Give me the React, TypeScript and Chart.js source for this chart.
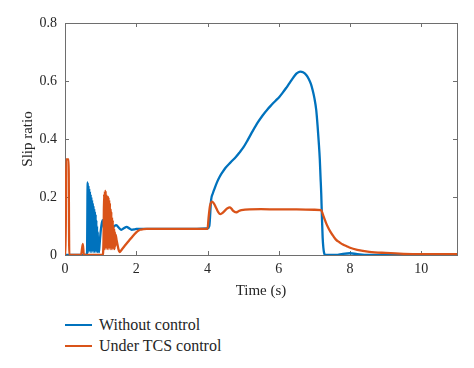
import React, { useEffect, useRef } from "react";
import { Chart, registerables } from "chart.js";

Chart.register(...registerables);

// ---- data ----
const seriesNames = ["Without control", "Under TCS control"];
const seriesColors = ["#0072BD", "#D95319"];

const blueTime = [
  0, 0.6, 0.62, 0.63, 0.64, 0.65, 0.66, 0.67, 0.68, 0.69, 0.7, 0.71, 0.72, 0.73, 0.74, 0.75, 0.76, 0.77, 0.78, 0.79,
  0.8, 0.81, 0.82, 0.83, 0.84, 0.85, 0.86, 0.87, 0.88, 0.89, 0.9, 0.91, 0.92, 0.93, 0.94, 0.95, 0.96,
  1.0, 1.05, 1.1, 1.2, 1.3, 1.37, 1.44, 1.51, 1.58, 1.65, 1.73, 1.8, 1.87, 1.94, 2.0, 2.5, 3.0, 3.5, 4.0, 4.05,
  4.1, 4.15, 4.2, 4.27, 4.34, 4.42, 4.5, 4.65, 4.8, 4.9, 5.0, 5.13, 5.27, 5.41, 5.55, 5.68, 5.8, 5.91, 6.02, 6.11,
  6.2, 6.3, 6.39, 6.45, 6.5, 6.55, 6.6, 6.68, 6.77, 6.84, 6.9, 6.95, 7.0, 7.05, 7.09, 7.12, 7.15, 7.17, 7.19, 7.21,
  7.23, 7.25, 7.27, 7.3, 7.6, 7.8, 8.0, 8.2, 8.5, 11,
];
const blueSlip = [
  0, 0, 0.01, 0.2, 0.25, 0.02, 0.24, 0.01, 0.23, 0.02, 0.22, 0.01, 0.21, 0.02, 0.2, 0.01, 0.19, 0.02, 0.18, 0.01,
  0.17, 0.02, 0.16, 0.01, 0.15, 0.02, 0.14, 0.01, 0.12, 0.02, 0.1, 0.01, 0.08, 0.02, 0.05, 0.01, 0.02,
  0.08, 0.12, 0.09, 0.11, 0.09, 0.098, 0.103, 0.094, 0.087, 0.092, 0.097, 0.092, 0.087, 0.088, 0.09, 0.09, 0.09,
  0.09, 0.092, 0.1, 0.19, 0.213, 0.23, 0.252, 0.27, 0.286, 0.3, 0.32, 0.339, 0.354, 0.37, 0.397, 0.428, 0.457,
  0.482, 0.502, 0.518, 0.532, 0.546, 0.56, 0.575, 0.593, 0.609, 0.619, 0.626, 0.63, 0.632, 0.63, 0.621, 0.607,
  0.59, 0.568, 0.54, 0.5, 0.442, 0.39, 0.33, 0.27, 0.213, 0.13, 0.06, 0.025, 0.008, 0, 0, 0.004, 0.006, 0.003, 0, 0,
];

const orangeTime = [
  0, 0.02, 0.03, 0.1, 0.12, 0.45, 0.5, 0.53, 1.06, 1.08, 1.09, 1.1, 1.11, 1.12, 1.13, 1.14, 1.15, 1.16, 1.17, 1.18,
  1.19, 1.2, 1.21, 1.22, 1.23, 1.24, 1.25, 1.26, 1.27, 1.28, 1.29, 1.3, 1.31, 1.32, 1.33, 1.34, 1.35, 1.36, 1.37,
  1.38, 1.39, 1.4, 1.41, 1.42, 1.45, 1.5, 1.53, 1.6, 1.7, 1.8, 1.9, 2.0, 2.05, 2.1, 2.2, 2.3, 2.5, 3.0, 3.5, 4.0,
  4.03, 4.07, 4.13, 4.19, 4.25, 4.3, 4.36, 4.43, 4.5, 4.56, 4.62, 4.67, 4.72, 4.8, 4.87, 4.95, 5.5, 6.0, 6.5, 7.0,
  7.19, 7.22, 7.25, 7.29, 7.33, 7.39, 7.45, 7.53, 7.61, 7.7, 7.8, 7.89, 7.98, 8.2, 8.54, 9.0, 9.5, 10, 11,
];
const orangeSlip = [
  0, 0, 0.33, 0.33, 0, 0, 0.038, 0, 0, 0.05, 0.15, 0.21, 0.02, 0.22, 0.03, 0.222, 0.02, 0.21, 0.03, 0.2,
  0.02, 0.2, 0.03, 0.2, 0.02, 0.19, 0.03, 0.18, 0.02, 0.16, 0.03, 0.15, 0.02, 0.13, 0.03, 0.12, 0.02, 0.1, 0.03,
  0.09, 0.02, 0.08, 0.03, 0.07, 0.05, 0.02, 0.01, 0.02, 0.035, 0.05, 0.065, 0.078, 0.083, 0.087, 0.089, 0.09, 0.09,
  0.09, 0.09, 0.09, 0.13, 0.17, 0.184, 0.175, 0.16, 0.148, 0.141, 0.146, 0.155, 0.161, 0.164, 0.16, 0.152, 0.147,
  0.151, 0.155, 0.158, 0.157, 0.157, 0.156, 0.155, 0.146, 0.135, 0.122, 0.109, 0.093, 0.08, 0.065, 0.052, 0.044,
  0.036, 0.031, 0.026, 0.018, 0.011, 0.007, 0.004, 0.003, 0.003,
];

const xTicks = [0, 2, 4, 6, 8, 10];
const xTickLabels = ["0", "2", "4", "6", "8", "10"];
const yTicks = [0, 0.2, 0.4, 0.6, 0.8];
const yTickLabels = ["0", "0.2", "0.4", "0.6", "0.8"];
const xTitle = "Time (s)";
const yTitle = "Slip ratio";

const FONT = "'Liberation Serif', 'Times New Roman', serif";
const TEXT = "#262626";
const AXIS = "#6e6e6e";

const framePlugin = {
  id: "frame",
  beforeDatasetsDraw(chart: any) {
    const { ctx, chartArea: a, scales } = chart;
    ctx.save();
    ctx.strokeStyle = AXIS;
    ctx.lineWidth = 1;
    ctx.strokeRect(Math.round(a.left) + 0.5, Math.round(a.top) + 0.5, Math.round(a.right - a.left), Math.round(a.bottom - a.top));
    const tl = 4;
    ctx.beginPath();
    xTicks.forEach((v) => {
      const px = Math.round(scales.x.getPixelForValue(v)) + 0.5;
      ctx.moveTo(px, a.bottom);
      ctx.lineTo(px, a.bottom - tl);
      ctx.moveTo(px, a.top);
      ctx.lineTo(px, a.top + tl);
    });
    yTicks.forEach((v) => {
      const py = Math.round(scales.y.getPixelForValue(v)) + 0.5;
      ctx.moveTo(a.left, py);
      ctx.lineTo(a.left + tl, py);
      ctx.moveTo(a.right, py);
      ctx.lineTo(a.right - tl, py);
    });
    ctx.stroke();
    ctx.restore();
  },
};

export default function App() {
  const ref = useRef<HTMLCanvasElement | null>(null);

  useEffect(() => {
    if (!ref.current) return;
    const chart = new Chart(ref.current, {
      type: "line",
      data: {
        datasets: [
          {
            label: seriesNames[0],
            data: blueTime.map((t, i) => ({ x: t, y: blueSlip[i] })),
            borderColor: seriesColors[0],
            backgroundColor: seriesColors[0],
            borderWidth: 2.3,
            pointRadius: 0,
            cubicInterpolationMode: "monotone",
            borderJoinStyle: "round",
            order: 1,
          },
          {
            label: seriesNames[1],
            data: orangeTime.map((t, i) => ({ x: t, y: orangeSlip[i] })),
            borderColor: seriesColors[1],
            backgroundColor: seriesColors[1],
            borderWidth: 2.3,
            pointRadius: 0,
            cubicInterpolationMode: "monotone",
            borderJoinStyle: "round",
            order: 0,
          },
        ],
      },
      options: {
        animation: false,
        responsive: false,
        layout: { padding: { left: 0, right: 17, top: 23, bottom: 0 } },
        plugins: { legend: { display: false }, tooltip: { enabled: false } },
        scales: {
          x: {
            type: "linear",
            min: 0,
            max: 11,
            grid: { display: false, drawTicks: false },
            border: { display: false },
            afterBuildTicks: (s: any) => {
              s.ticks = xTicks.map((v) => ({ value: v }));
            },
            afterFit: (s: any) => {
              s.height = 50;
            },
            ticks: {
              padding: 6,
              maxRotation: 0,
              autoSkip: false,
              color: TEXT,
              font: { family: FONT, size: 14 },
              callback: (v: any) => xTickLabels[xTicks.indexOf(Number(v))] ?? "",
            },
            title: {
              display: true,
              text: xTitle,
              color: TEXT,
              font: { family: FONT, size: 15 },
              padding: { top: 0, bottom: 5 },
            },
          },
          y: {
            type: "linear",
            min: 0,
            max: 0.8,
            grid: { display: false, drawTicks: false },
            border: { display: false },
            afterBuildTicks: (s: any) => {
              s.ticks = yTicks.map((v) => ({ value: v }));
            },
            afterFit: (s: any) => {
              s.width = 65;
            },
            ticks: {
              padding: 8,
              autoSkip: false,
              color: TEXT,
              font: { family: FONT, size: 14 },
              callback: (v: any) => {
                const i = yTicks.findIndex((t) => Math.abs(t - Number(v)) < 1e-9);
                return i >= 0 ? yTickLabels[i] : "";
              },
            },
            title: {
              display: true,
              text: yTitle,
              color: TEXT,
              font: { family: FONT, size: 15 },
              padding: { top: 19, bottom: 0 },
            },
          },
        },
      },
      plugins: [framePlugin],
    });
    return () => chart.destroy();
  }, []);

  return (
    <div style={{ position: "absolute", left: 0, top: 0, width: 474, height: 368, background: "#fff", overflow: "hidden" }}>
      <canvas ref={ref} width={474} height={305} style={{ display: "block", width: 474, height: 305 }} />
      {seriesNames.map((name, i) => (
        <div
          key={name}
          style={{
            position: "absolute",
            left: 65,
            top: 315 + i * 21,
            height: 20,
            display: "flex",
            alignItems: "center",
            fontFamily: FONT,
            fontSize: 16,
            color: TEXT,
            whiteSpace: "nowrap",
          }}
        >
          <span style={{ display: "inline-block", width: 27, height: 2, background: seriesColors[i], marginRight: 7 }} />
          <span>{name}</span>
        </div>
      ))}
    </div>
  );
}
